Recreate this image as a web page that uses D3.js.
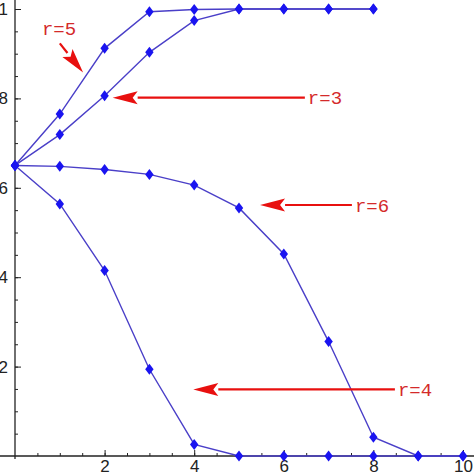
<!DOCTYPE html>
<html>
<head>
<meta charset="utf-8">
<script src="https://cdn.jsdelivr.net/npm/d3@7"></script>
<style>
  html, body { margin: 0; padding: 0; background: #ffffff; overflow: hidden; }
</style>
</head>
<body>
<div id="chart"></div>
<script>
// steps along the x axis
const steps = [0, 1, 2, 3, 4, 5, 6, 7, 8, 9, 10];

// one series per r value
const r5Values = [0.65, 0.765, 0.912, 0.994, 0.999, 1, 1, 1, 1];
const r3Values = [0.65, 0.719, 0.806, 0.903, 0.974, 1, 1, 1, 1];
const r6Values = [0.65, 0.648, 0.641, 0.63, 0.606, 0.555, 0.452, 0.256, 0.042, 0, 0];
const r4Values = [0.65, 0.564, 0.415, 0.194, 0.026, 0, 0, 0, 0, 0, 0];

// tick labels
const xTicks = [2, 4, 6, 8, 10];
const yTicks = [0.2, 0.4, 0.6, 0.8, 1];
const yTickLabels = ["0.2", "0.4", "0.6", "0.8", "1"];

// arrow labels: text, tail point, tip point (data space)
const arrowLabels = ["r=5", "r=3", "r=6", "r=4"];
const arrowTails = [[1.0, 0.923], [6.47, 0.8016], [7.52, 0.5615], [8.48, 0.149]];
const arrowTips = [[1.52, 0.858], [2.18, 0.8016], [5.47, 0.5615], [3.98, 0.149]];

const W = 474, H = 474;

const svg = d3.select("#chart")
    .append("svg")
    .attr("width", W)
    .attr("height", H);

const x = d3.scaleLinear().domain([0, 10]).range([15, 463]);
const y = d3.scaleLinear().domain([0, 1]).range([456, 9]);

// axes lines (Mathematica style, crossing at origin)
svg.append("line")
    .attr("x1", 0).attr("x2", W)
    .attr("y1", y(0)).attr("y2", y(0))
    .attr("stroke", "#222").attr("stroke-width", 1.3);
svg.append("line")
    .attr("x1", x(0)).attr("x2", x(0))
    .attr("y1", 0).attr("y2", y(0) + 3)
    .attr("stroke", "#222").attr("stroke-width", 1.3);

// minor ticks
svg.append("g")
    .attr("transform", `translate(0,${y(0)})`)
    .call(d3.axisBottom(x).tickValues(d3.range(0.5, 10.01, 0.5)).tickSize(-3).tickFormat(""))
    .call(g => g.select(".domain").remove())
    .call(g => g.selectAll(".tick line").attr("stroke", "#222"));
svg.append("g")
    .attr("transform", `translate(${x(0)},0)`)
    .call(d3.axisLeft(y).tickValues(d3.range(0.05, 1.001, 0.05)).tickSize(-3).tickFormat(""))
    .call(g => g.select(".domain").remove())
    .call(g => g.selectAll(".tick line").attr("stroke", "#222"));

// major ticks with labels
svg.append("g")
    .attr("transform", `translate(0,${y(0)})`)
    .call(d3.axisBottom(x).tickValues(xTicks).tickSize(-6).tickPadding(4))
    .call(g => g.select(".domain").remove())
    .call(g => g.selectAll(".tick line").attr("stroke", "#222"))
    .call(g => g.selectAll(".tick text")
        .attr("fill", "#222")
        .attr("font-family", "Liberation Sans, Arial, sans-serif")
        .attr("font-size", "17px"));

svg.append("g")
    .attr("transform", `translate(${x(0)},0)`)
    .call(d3.axisLeft(y).tickValues(yTicks).tickSize(-6).tickPadding(7)
        .tickFormat((d, i) => yTickLabels[i]))
    .call(g => g.select(".domain").remove())
    .call(g => g.selectAll(".tick line").attr("stroke", "#222"))
    .call(g => g.selectAll(".tick text")
        .attr("fill", "#222")
        .attr("font-family", "Liberation Sans, Arial, sans-serif")
        .attr("font-size", "17px"));

// series lines
const series = [r5Values, r3Values, r6Values, r4Values];
const line = d3.line()
    .x((d, i) => x(steps[i]))
    .y(d => y(d));

svg.selectAll(".series")
    .data(series)
    .enter()
    .append("path")
    .attr("class", "series")
    .attr("fill", "none")
    .attr("stroke", "#4a3fc8")
    .attr("stroke-width", 1.4)
    .attr("d", line);

// diamond markers
const diamond = "M0,-5.5L4.2,0L0,5.5L-4.2,0Z";
series.forEach(vals => {
    svg.append("g")
        .selectAll("path")
        .data(vals)
        .enter()
        .append("path")
        .attr("d", diamond)
        .attr("transform", (d, i) => `translate(${x(steps[i])},${y(d)})`)
        .attr("fill", "#1a14f0");
});

// red arrows with labels
function drawArrow(tail, tip) {
    const x0 = x(tail[0]), y0 = y(tail[1]);
    const x1 = x(tip[0]), y1 = y(tip[1]);
    const ang = Math.atan2(y1 - y0, x1 - x0);
    const headLen = 25, headHalf = 6.5;
    const bx = x1 - headLen * Math.cos(ang), by = y1 - headLen * Math.sin(ang);
    const px = -Math.sin(ang) * headHalf, py = Math.cos(ang) * headHalf;
    svg.append("line")
        .attr("x1", x0).attr("y1", y0)
        .attr("x2", bx).attr("y2", by)
        .attr("stroke", "#e8100f").attr("stroke-width", 2.2);
    svg.append("path")
        .attr("d", `M${x1},${y1}L${bx + px},${by + py}L${bx + 5 * Math.cos(ang)},${by + 5 * Math.sin(ang)}L${bx - px},${by - py}Z`)
        .attr("fill", "#e8100f");
}

arrowLabels.forEach((lab, i) => {
    drawArrow(arrowTails[i], arrowTips[i]);
});

// label positions: r=5 sits above its arrow, others at the tail end
const labelFont = "Liberation Mono, Courier New, monospace";
svg.selectAll(".arrow-label")
    .data(arrowLabels)
    .enter()
    .append("text")
    .attr("class", "arrow-label")
    .attr("x", (d, i) => i === 0 ? x(0.6) : x(arrowTails[i][0]) + 3)
    .attr("y", (d, i) => i === 0 ? y(0.957) : y(arrowTails[i][1]))
    .attr("dy", "0.35em")
    .attr("fill", "#d42a2a")
    .attr("font-family", labelFont)
    .attr("font-size", "19px")
    .text(d => d);
</script>
</body>
</html>
